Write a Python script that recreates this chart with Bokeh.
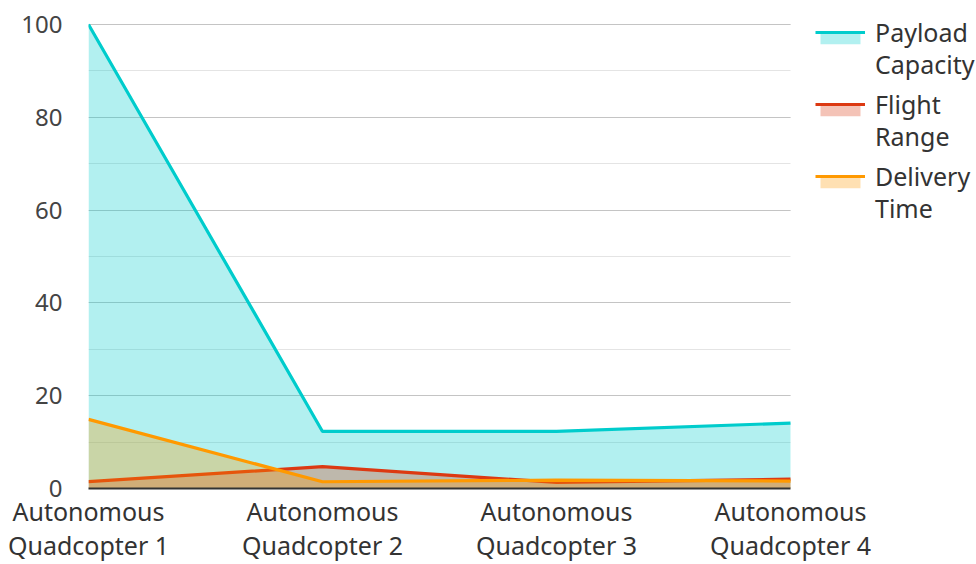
from bokeh.plotting import figure
from bokeh.models import FixedTicker, Legend, LegendItem, SingleIntervalTicker, Range1d
from bokeh.embed import file_html
from bokeh.resources import INLINE

categories = ["Autonomous\nQuadcopter 1", "Autonomous\nQuadcopter 2",
              "Autonomous\nQuadcopter 3", "Autonomous\nQuadcopter 4"]
payload = [100, 12.3, 12.3, 14.1]
flight = [1.5, 4.7, 1.3, 2.0]
delivery = [14.9, 1.45, 1.8, 1.6]
label_first = ["Payload", "Flight", "Delivery"]
label_second = ["Capacity", "Range", "Time"]
colors = ["#00cccc", "#dc3912", "#ff9900"]

xs = list(range(len(categories)))

# pixel geometry
W, H = 976, 564
FL, FR = 88, 976          # frame left / right
X_LAST = 790              # pixel of last category
Y0, Y100 = 489, 24        # pixel of value 0 and 100
FT = 4                    # frame top
n = len(categories) - 1
x_end = n * (FR - FL) / (X_LAST - FL)
y_end = 100 + (Y100 - FT) * 100 / (Y0 - Y100)

p = figure(width=W, height=H, output_backend="svg", toolbar_location=None,
           x_range=Range1d(0, x_end), y_range=Range1d(0, y_end),
           min_border_left=FL, min_border_right=W - FR, min_border_top=FT,
           min_border_bottom=H - Y0)
p.outline_line_color = None
p.background_fill_color = "white"
p.border_fill_color = "white"

areas, lines, dummies = [], [], []
for vals, c in zip([payload, flight, delivery], colors):
    areas.append(p.varea(x=xs, y1=[0] * len(xs), y2=vals, fill_color=c, fill_alpha=0.3))
    lines.append(p.line(x=xs, y=vals, line_color=c, line_width=3.2))
    dummies.append(p.line(x=[], y=[], line_alpha=0))

LX = 815 - FL
ROW_H = 34
GAP = 38
LEG_H = 3 * ROW_H + 2 * GAP
common = dict(margin=0, padding=0, label_text_font="Noto Sans",
              label_text_font_size="25px", label_text_color="#333333",
              glyph_width=50, label_standoff=10, label_height=ROW_H,
              spacing=GAP, border_line_color=None, background_fill_alpha=0)

def bottom_for(center_y):
    top = center_y - ROW_H / 2
    return (Y0 - top) - LEG_H

legend_patch = Legend(items=[LegendItem(label=" ", renderers=[a]) for a in areas],
                      location=(LX, bottom_for(39)), glyph_height=13, **common)
legend_line = Legend(items=[LegendItem(label=t, renderers=[l]) for t, l in zip(label_first, lines)],
                     location=(LX, bottom_for(33)), glyph_height=14, **common)
legend_second = Legend(items=[LegendItem(label=t, renderers=[d]) for t, d in zip(label_second, dummies)],
                       location=(LX, bottom_for(65)), glyph_height=14, **common)
p.add_layout(legend_patch)
p.add_layout(legend_line)
p.add_layout(legend_second)

p.yaxis.ticker = SingleIntervalTicker(interval=20, num_minor_ticks=2)
p.ygrid.grid_line_color = "#c4c4c4"
p.ygrid.grid_line_width = 1
p.ygrid.minor_grid_line_color = "#e4e4e4"
p.ygrid.cross_bounds = (0, n)
p.xgrid.grid_line_color = None

p.yaxis.axis_line_color = None
p.yaxis.major_tick_line_color = None
p.yaxis.minor_tick_line_color = None
p.yaxis.major_tick_out = 0
p.yaxis.major_label_standoff = 22
p.yaxis.major_label_text_font = "Noto Sans"
p.yaxis.major_label_text_font_size = "24px"
p.yaxis.major_label_text_color = "#444444"

p.xaxis.ticker = FixedTicker(ticks=xs)
p.xaxis.bounds = (0, n)
p.xaxis.major_label_overrides = {i: c for i, c in zip(xs, categories)}
p.xaxis.axis_line_color = "#333333"
p.xaxis.axis_line_width = 2
p.xaxis.major_tick_line_color = None
p.xaxis.minor_tick_line_color = None
p.xaxis.major_tick_out = 0
p.xaxis.major_label_standoff = 5
p.xaxis.major_label_text_line_height = 1.0
p.xaxis.major_label_text_font = "Noto Sans"
p.xaxis.major_label_text_font_size = "25px"
p.xaxis.major_label_text_color = "#333333"

open("out.html", "w").write(file_html(p, INLINE))
